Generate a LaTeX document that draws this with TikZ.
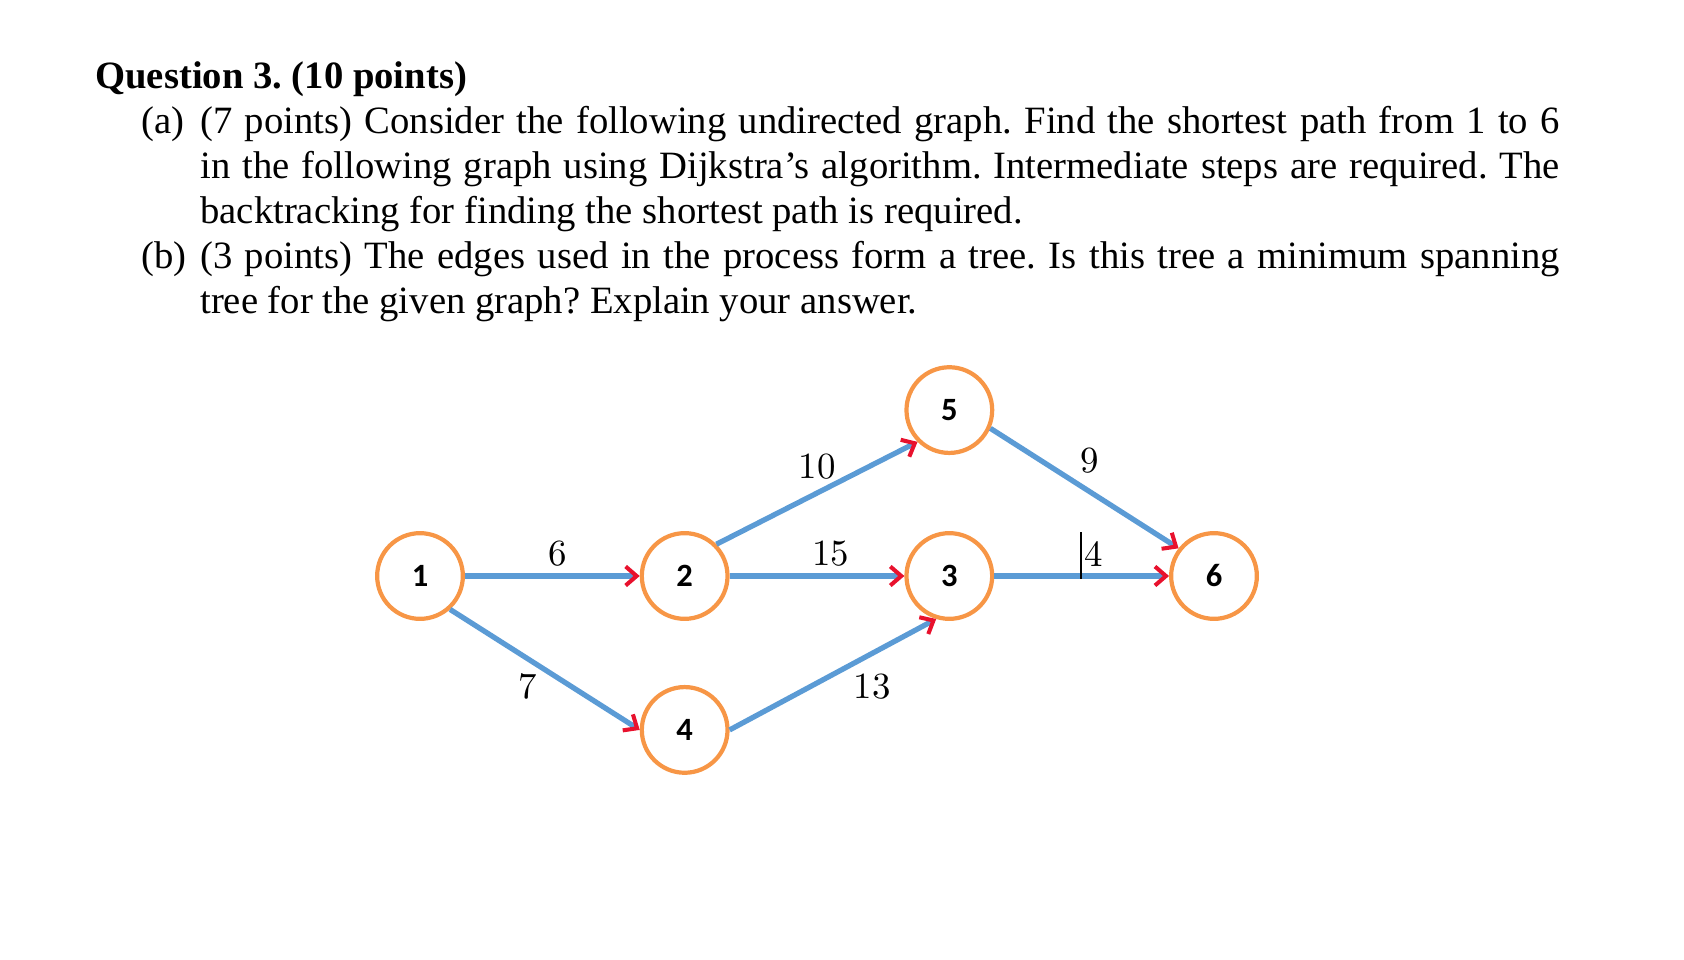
\documentclass[tikz,border=0pt]{standalone}
\usepackage{fontspec}
\setmainfont{Liberation Serif}
\newfontfamily\vertexfont{Carlito}
\newfontfamily\weightfont{lmroman10-regular.otf}
\usetikzlibrary{positioning}
\usetikzlibrary{arrows.meta}
\definecolor{nodeorange}{HTML}{F79646}
\definecolor{edgeblue}{HTML}{5B9BD5}
\definecolor{tipred}{HTML}{E8112D}
\frenchspacing

\begin{document}
\begin{tikzpicture}[
    node distance=1.28cm and 3.495cm,
    vertex/.style={draw=nodeorange,line width=2.4pt,circle,minimum size=1.714cm,inner sep=0pt,
      font=\vertexfont\bfseries\fontsize{18.5}{20}\selectfont},
    graphedge/.style={draw=edgeblue,line width=3pt,
      -{Straight Barb[color=tipred,length=2.2mm,width=3.8mm,line width=2.3pt]}},
    wlabel/.style={font=\weightfont\fontsize{21}{24}\selectfont,inner sep=2pt},
    para/.style={font=\fontsize{22}{25.6}\selectfont,inner sep=0pt,anchor=base west}
    ]

    \useasboundingbox (0,0) rectangle (33.68,-19.2);

    % question text
    \node[para,font=\bfseries\fontsize{22}{25.6}\selectfont] (title) at (1.9,-1.77) {Question 3. (10 points)};
    \node[para] (itema) at (2.82,-2.67) {(a)};
    \node[para,text width=27.19cm,align=justify] (texta) at (4.0,-2.67)
      {(7 points) Consider the following undirected graph. Find the shortest path from 1 to 6\linebreak
       in the following graph using Dijkstra’s algorithm. Intermediate steps are required. The\linebreak
       backtracking for finding the shortest path is required.};
    \node[para] (itemb) at (2.82,-5.37) {(b)};
    \node[para,text width=27.19cm,align=justify] (textb) at (4.0,-5.37)
      {(3 points) The edges used in the process form a tree. Is this tree a minimum spanning\linebreak
       tree for the given graph? Explain your answer.};

    % graph
    \node[vertex] (n1) at (8.4,-11.52) {1};
    \node[vertex, right=of n1] (n2) {2};
    \node[vertex, right=of n2] (n3) {3};
    \node[vertex, right=of n3] (n6) {6};
    \node[vertex, below=of n2] (n4) {4};
    \node[vertex, above=1.52cm of n3] (n5) {5};

    \path (n1) edge[graphedge] node[wlabel,above=2pt,pos=0.53] {6} (n2)
    (n1.-48) edge[graphedge] node[wlabel,below=5pt,pos=0.41] {7} (n4.west)
    (n2.north east) edge[graphedge] node[wlabel,above=4.5pt,pos=0.5] {10} (n5.south west)
    (n2) edge[graphedge] node[wlabel,above=2pt,pos=0.58] {15} (n3)
    (n4.east) edge[graphedge] node[wlabel,below=8pt,pos=0.69] {13} (n3.253)
    (n5.-24) edge[graphedge] node[wlabel,above=7pt,pos=0.53] {9} (n6.142)
    (n3) edge[graphedge] node[wlabel,above=2pt,pos=0.57] (w36) {4} (n6)
    ;

    \draw[line width=0.6pt] (21.62,-10.64) -- (21.62,-11.58);

  \end{tikzpicture}
\end{document}
